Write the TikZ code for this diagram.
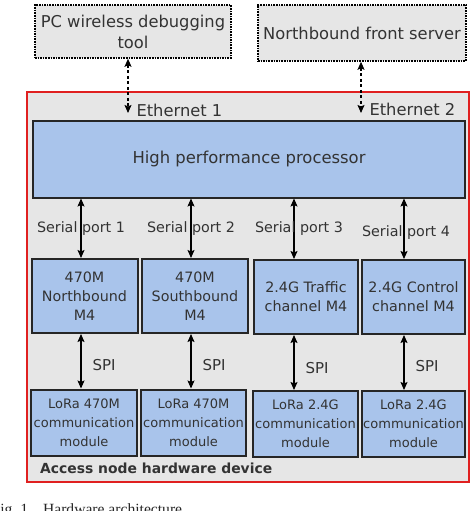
\documentclass[tikz,border=0pt]{standalone}
\usepackage{fontspec}
\setsansfont{DejaVu Sans}
\newfontfamily\capfont{Liberation Serif}
\usepackage{xcolor}
\usepackage{tikz}
\usetikzlibrary{arrows.meta,positioning,calc}

\definecolor{boxblue}{HTML}{A9C4EB}
\definecolor{bggray}{HTML}{E6E6E6}
\definecolor{framered}{HTML}{E02020}
\definecolor{txtgray}{HTML}{333333}

\begin{document}
\begin{tikzpicture}[
    x=1pt, y=-1pt,
    font=\sffamily\color{txtgray},
    ext/.style={rectangle, draw=black, densely dotted, line width=1.6pt, fill=bggray,
        align=center, inner sep=2pt, font=\sffamily\fontsize{16.3}{21}\selectfont\color{txtgray}},
    proc/.style={rectangle, draw=black!85, line width=2pt, fill=boxblue,
        minimum width=432pt, minimum height=77pt, font=\sffamily\fontsize{16.4}{19}\selectfont\color{txtgray}},
    mcu/.style={rectangle, draw=black!85, line width=2pt, fill=boxblue, align=center,
        minimum width=106pt, minimum height=74pt, inner sep=0pt,
        font=\sffamily\fontsize{14.3}{19}\selectfont\color{txtgray}},
    lora/.style={mcu, minimum height=66pt, font=\sffamily\fontsize{13}{19}\selectfont\color{txtgray}},
    lbl/.style={inner sep=1pt, font=\sffamily\fontsize{14.3}{17}\selectfont\color{txtgray}},
    ethlbl/.style={lbl, font=\sffamily\fontsize{16.3}{19}\selectfont\color{txtgray}},
    spilbl/.style={lbl, font=\sffamily\fontsize{15}{18}\selectfont\color{txtgray}},
    biarrow/.style={{Stealth[length=8pt,width=7pt,inset=1.5pt]}-{Stealth[length=8pt,width=7pt,inset=1.5pt]}, line width=1.1pt},
    dasharrow/.style={biarrow, dash pattern=on 3pt off 2.5pt}
]
    \useasboundingbox (0,0) rectangle (474,511);

    % device frame
    \node[rectangle, draw=framered, line width=1.5pt, fill=bggray,
        minimum width=442pt, minimum height=390pt] (device) at (248,287) {};
    \node[anchor=west, inner sep=0pt, font=\sffamily\bfseries\fontsize{13.9}{16}\selectfont\color{txtgray}]
        (devlabel) at (40,468) {Access node hardware device};

    % external equipment
    \node[ext, minimum width=196pt, minimum height=53pt] (pc) at (133,31.5) {PC wireless debugging\\tool};
    \node[ext, minimum width=208pt, minimum height=56pt] (front) at (362,33) {Northbound front server};

    % processor and M4 units
    \node[proc] (cpu) at (249,159) {High performance processor};

    \node[mcu] (nb) at (84.5,296) {470M\\Northbound\\M4};
    \node[mcu] (sb) at (195,296) {470M\\Southbound\\M4};
    \node[mcu, minimum width=104pt] (traffic) at (306,297) {2.4G Traffic\\channel M4};
    \node[mcu, minimum width=103pt] (control) at (413.5,297) {2.4G Control\\channel M4};

    % LoRa modules
    \node[lora] (lora1) at (84,422.5) {LoRa 470M\\communication\\module};
    \node[lora, minimum width=105pt] (lora2) at (193.5,422.5) {LoRa 470M\\communication\\module};
    \node[lora, minimum width=105pt] (lora3) at (305.5,424) {LoRa 2.4G\\communication\\module};
    \node[lora, minimum width=103pt] (lora4) at (413.5,424) {LoRa 2.4G\\communication\\module};

    % ethernet links
    \coordinate (eth1) at (128,113);
    \coordinate (eth2) at (361,113);
    \draw[dasharrow] (pc.south -| eth1) -- (eth1)
        node[ethlbl, anchor=west, xshift=7pt, yshift=3pt] {Ethernet 1};
    \draw[dasharrow] (front.south -| eth2) -- (eth2)
        node[ethlbl, anchor=west, xshift=7pt, yshift=4pt] {Ethernet 2};

    % serial ports
    \draw[biarrow] ([xshift=-3.5pt]nb.north |- cpu.south) -- ([xshift=-3.5pt]nb.north)
        node[lbl, midway] {Serial port 1};
    \draw[biarrow] ([xshift=-4pt]sb.north |- cpu.south) -- ([xshift=-4pt]sb.north)
        node[lbl, midway] {Serial port 2};
    \draw[biarrow] ([xshift=-12pt]traffic.north |- cpu.south) -- ([xshift=-12pt]traffic.north)
        node[lbl, midway, xshift=5pt] {Serial port 3};
    \draw[biarrow] ([xshift=-9.5pt]control.north |- cpu.south) -- ([xshift=-9.5pt]control.north)
        node[lbl, midway, xshift=2pt, yshift=-4pt] {Serial port 4};

    % SPI links
    \draw[biarrow] ([xshift=-3.5pt]nb.south) -- ([xshift=-3.5pt]nb.south |- lora1.north)
        node[spilbl, midway, anchor=west, xshift=10pt, yshift=-4pt] {SPI};
    \draw[biarrow] ([xshift=-4pt]sb.south) -- ([xshift=-4pt]sb.south |- lora2.north)
        node[spilbl, midway, anchor=west, xshift=10pt, yshift=-4pt] {SPI};
    \draw[biarrow] ([xshift=-12pt]traffic.south) -- ([xshift=-12pt]traffic.south |- lora3.north)
        node[spilbl, midway, anchor=west, xshift=10pt, yshift=-5.5pt] {SPI};
    \draw[biarrow] ([xshift=-9.5pt]control.south) -- ([xshift=-9.5pt]control.south |- lora4.north)
        node[spilbl, midway, anchor=west, xshift=10pt, yshift=-3.5pt] {SPI};

    % caption
    \node[anchor=base west, inner sep=0pt, font=\capfont\fontsize{15.6}{18}\selectfont\color{black!85}]
        (caption) at (-8.5,514) {Fig.\ 1\hspace{15pt}Hardware architecture};
\end{tikzpicture}
\end{document}
